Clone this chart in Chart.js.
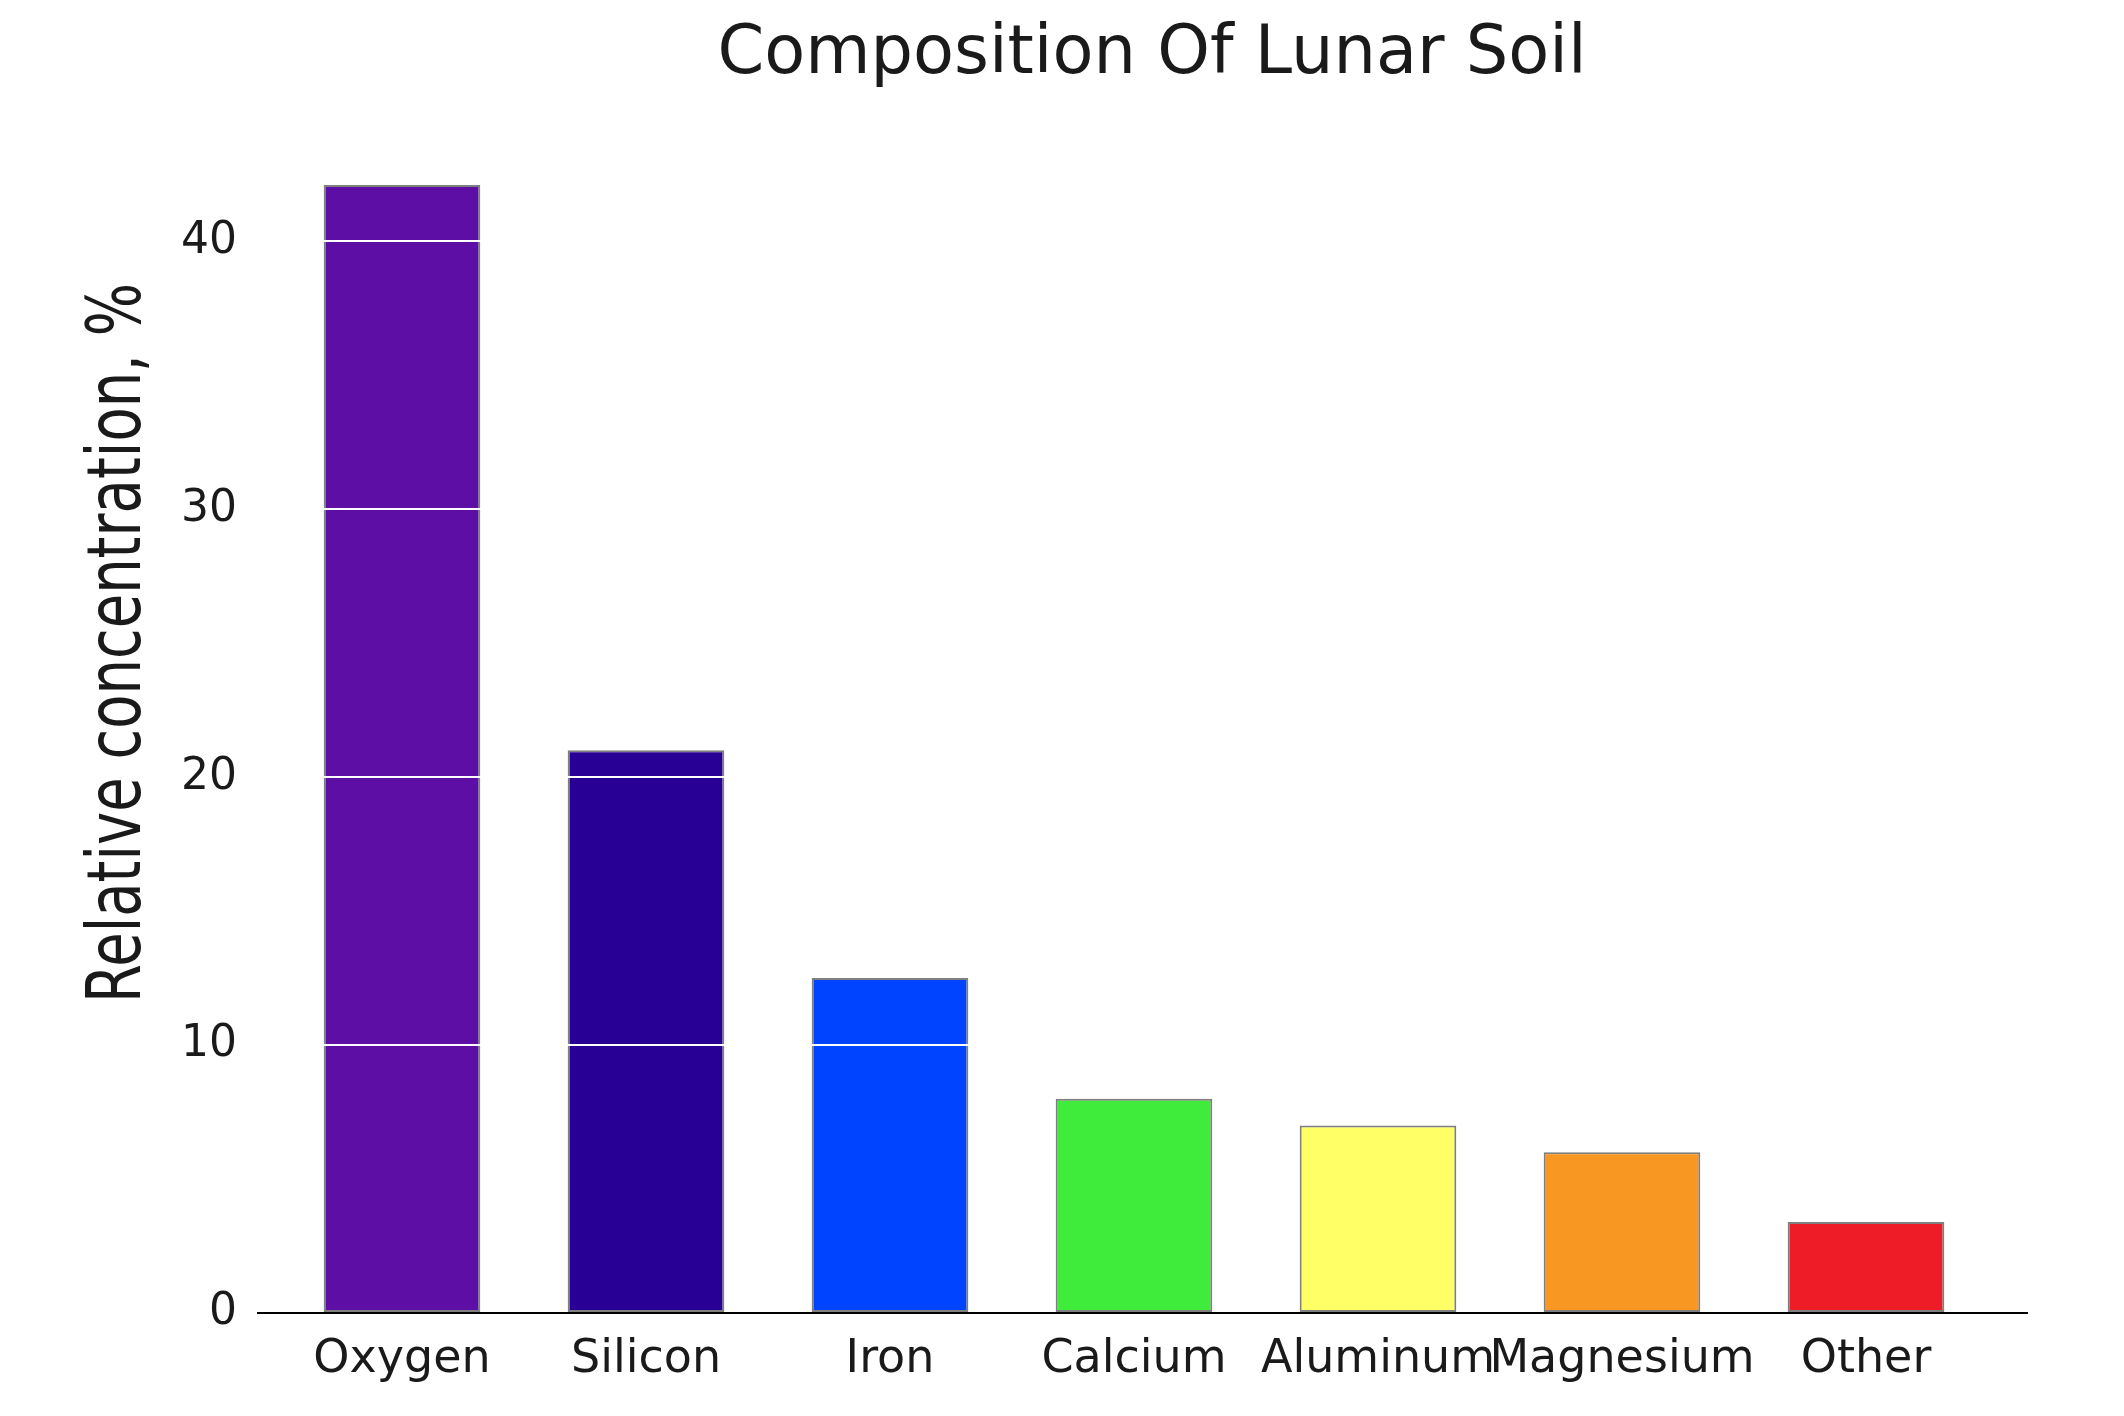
<!DOCTYPE html>
<html>
<head>
<meta charset="utf-8">
<script src="https://cdn.jsdelivr.net/npm/chart.js@4.4.1/dist/chart.umd.min.js"></script>
<style>
  html, body { margin: 0; padding: 0; background: #fff; }
  #wrap { width: 2124px; height: 1416px; }
</style>
</head>
<body>
<div id="wrap"><canvas id="soilChart"></canvas></div>
<script>
// DATA
const elements = ["Oxygen", "Silicon", "Iron", "Calcium", "Aluminum", "Magnesium", "Other"];
const concentration = [42.1, 21, 12.5, 8, 7, 6, 3.4];
const barColors = ["#5c0ea5", "#280096", "#0044ff", "#3fec3c", "#ffff66", "#f89822", "#ee1c26"];
const yTicks = [0, 10, 20, 30, 40];

const TEXT = "#1a1a1a";
const FONT = "'DejaVu Sans', sans-serif";
const TITLE = "Composition Of Lunar Soil";
const Y_LABEL = "Relative concentration, %";

// title and y label drawn by hand: the title sits over the plot area, not the canvas
const textPlugin = {
  id: "texts",
  afterDraw(chart) {
    const ctx = chart.ctx;
    const area = chart.chartArea;
    const y = chart.scales.y;
    ctx.save();
    ctx.fillStyle = TEXT;
    ctx.font = "67px " + FONT;
    ctx.textAlign = "center";
    ctx.textBaseline = "alphabetic";
    ctx.fillText(TITLE, (area.left + area.right) / 2 + 18, 73);

    ctx.translate(140, y.getPixelForValue(25));
    ctx.rotate(-Math.PI / 2);
    ctx.font = "74px " + FONT;
    ctx.fillText(Y_LABEL, 0, 0, 720);
    ctx.restore();
  }
};

// black baseline, a bit wider than the bars, on top of them
const baseLinePlugin = {
  id: "baseLine",
  afterDraw(chart) {
    const ctx = chart.ctx;
    const area = chart.chartArea;
    const y0 = chart.scales.y.getPixelForValue(0);
    ctx.save();
    ctx.strokeStyle = "#000";
    ctx.lineWidth = 2;
    ctx.beginPath();
    ctx.moveTo(area.left - 23, y0);
    ctx.lineTo(area.right + 40, y0);
    ctx.stroke();
    ctx.restore();
  }
};

new Chart(document.getElementById("soilChart").getContext("2d"), {
  type: "bar",
  data: {
    labels: elements,
    datasets: [{
      data: concentration,
      backgroundColor: barColors,
      borderColor: "#7f7f7f",
      borderWidth: 2,
      borderSkipped: false,
      barPercentage: 0.642,
      categoryPercentage: 1
    }]
  },
  options: {
    responsive: true,
    maintainAspectRatio: false,
    animation: false,
    devicePixelRatio: 1,
    layout: { padding: { left: 0, right: 136, top: 134, bottom: 0 } },
    plugins: {
      legend: { display: false },
      tooltip: { enabled: false },
      title: { display: false }
    },
    scales: {
      x: {
        offset: true,
        grid: { display: false, drawTicks: false },
        border: { display: false },
        ticks: {
          color: TEXT,
          padding: 19,
          autoSkip: false,
          maxRotation: 0,
          minRotation: 0,
          font: { family: FONT, size: 46 }
        },
        afterFit(scale) { scale.height = 103; }
      },
      y: {
        min: 0,
        max: 44,
        afterBuildTicks(scale) {
          scale.ticks = yTicks.map(v => ({ value: v }));
        },
        grid: {
          z: 1,
          drawTicks: false,
          lineWidth: 2,
          color: ctx => (ctx.tick && ctx.tick.value === 0) ? "rgba(0,0,0,0)" : "#ffffff"
        },
        border: { display: false },
        ticks: {
          color: TEXT,
          padding: 43,
          font: { family: FONT, size: 44 }
        },
        afterFit(scale) { scale.width = 280; }
      }
    }
  },
  plugins: [textPlugin, baseLinePlugin]
});
</script>
</body>
</html>
